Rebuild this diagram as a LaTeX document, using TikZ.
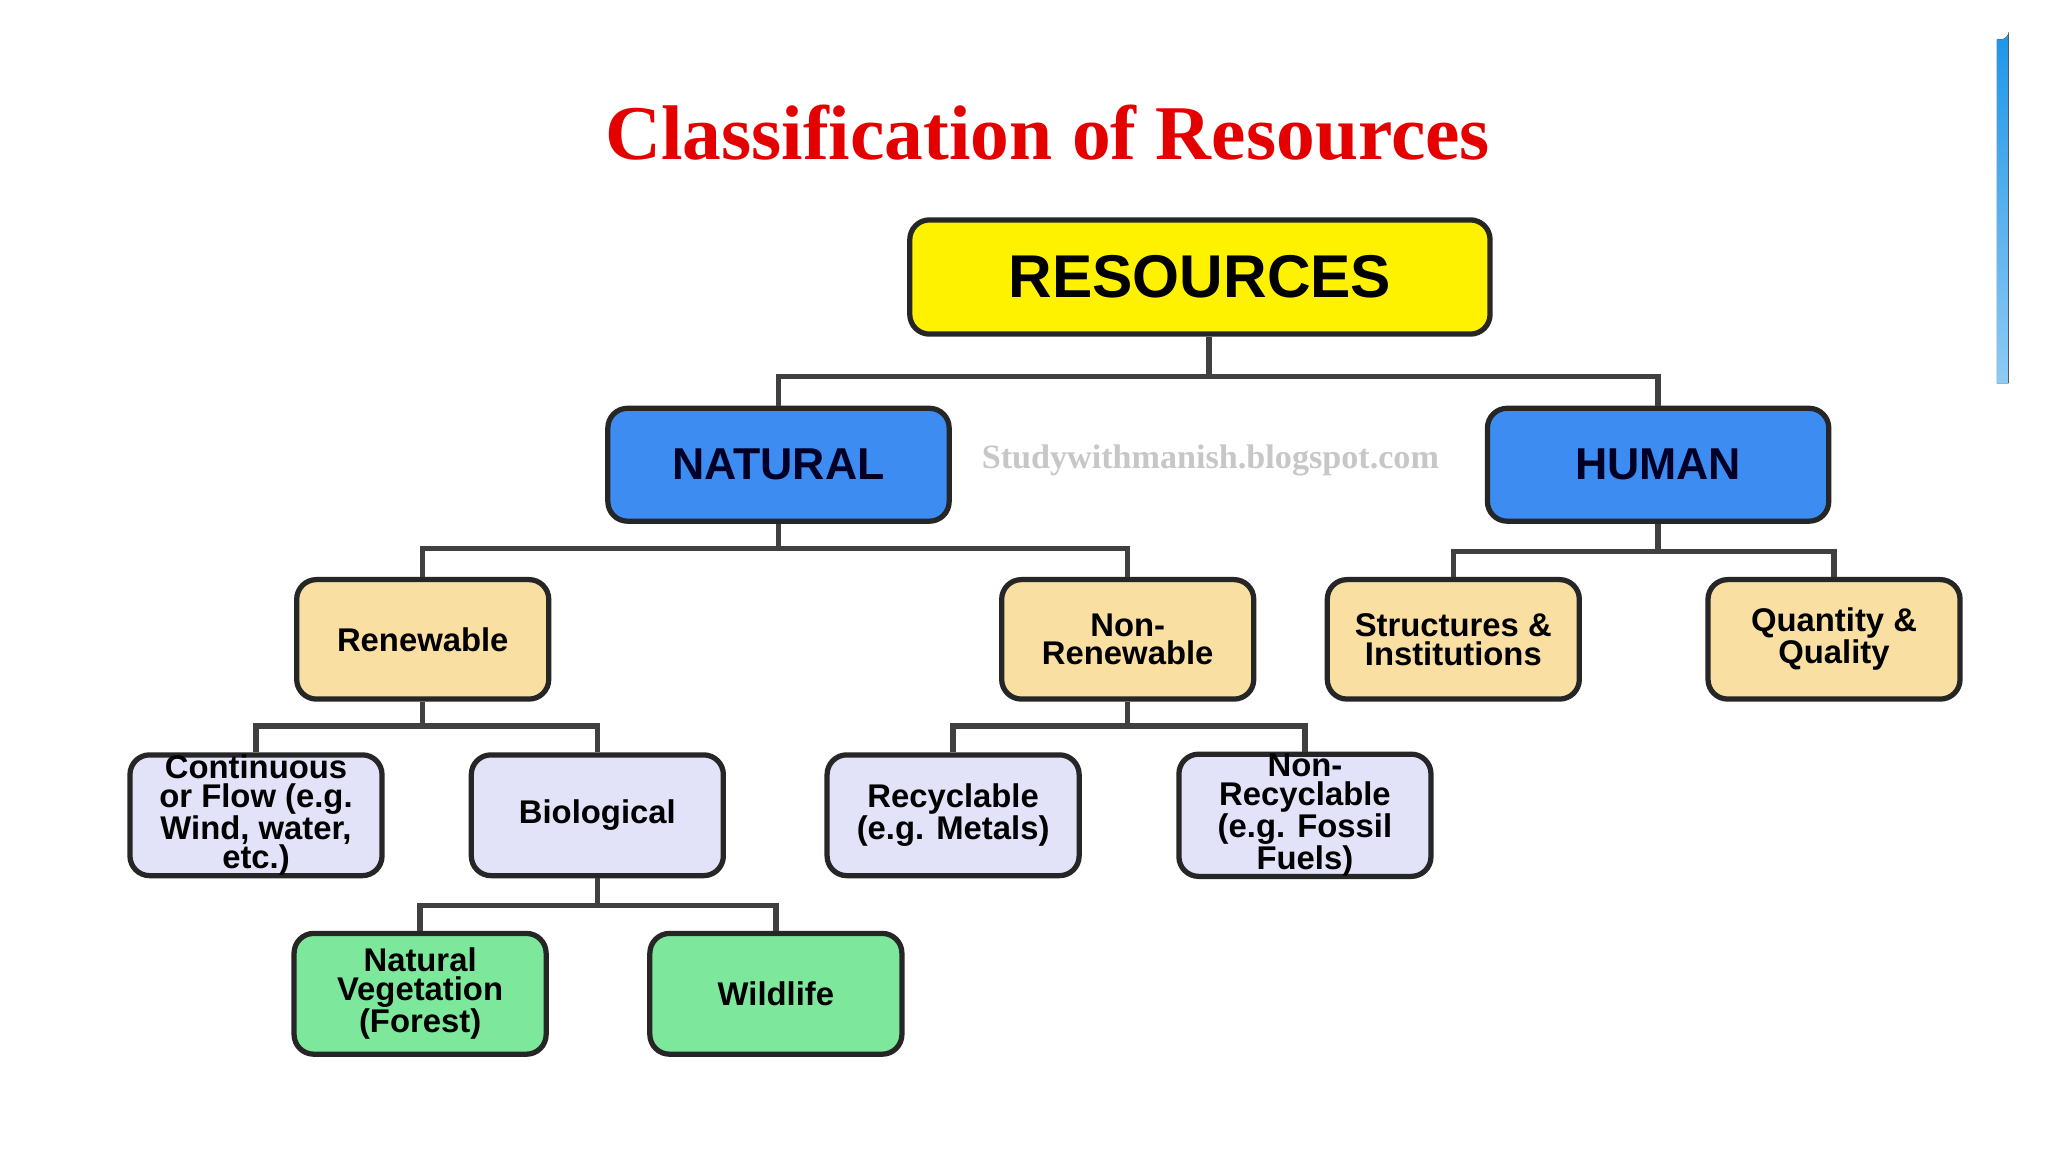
\documentclass[tikz,border=0pt]{standalone}
\usepackage{fontspec}
\setmainfont{Liberation Sans}
\newfontfamily\serifx{Liberation Serif}
\begin{document}
\begin{tikzpicture}[x=1pt,y=-1pt,
  box/.style={draw=black!85,line width=4pt,rounded corners=15pt,align=center,font=\bfseries,inner sep=0pt},
  conn/.style={draw=black!75,line width=4pt},
  tan/.style={box,fill=tanc,minimum width=192pt,minimum height=91pt,font=\fontsize{25}{22}\bfseries},
  lav/.style={box,fill=lavc,minimum width=192pt,minimum height=92pt,font=\fontsize{25}{22}\bfseries},
  grn/.style={box,fill=grnc,minimum width=192pt,minimum height=92pt,font=\fontsize{25}{22}\bfseries}]
\definecolor{tanc}{HTML}{FADFA3}
\definecolor{lavc}{HTML}{E2E2F8}
\definecolor{grnc}{HTML}{7DE89C}
\definecolor{bluec}{HTML}{3C8CF2}
\definecolor{barc}{HTML}{1E96E8}
\useasboundingbox (0,0) rectangle (1560,877.5);
\fill[white] (0,0) rectangle (1560,877.5);
\node[font=\serifx\bfseries\fontsize{59}{59}\selectfont,text=red!90!black] (title) at (798,101) {Classification of Resources};
\fill[top color=barc,bottom color=barc!50] (1521,292) -- (1521,30) -- (1524,30) arc[start angle=90,end angle=0,radius=6] -- (1530,292) -- cycle;
\node[font=\serifx\bfseries\fontsize{26}{26}\selectfont,text=black!22] (wm) at (922,351) {Studywithmanish.blogspot.com};
% nodes
\node[box,fill=yellow,minimum width=442pt,minimum height=87pt,font=\fontsize{46}{46}\bfseries] (res) at (914,211) {RESOURCES};
\node[box,fill=bluec,minimum width=260pt,minimum height=86pt,font=\fontsize{34}{34}\bfseries,text=black!85!blue] (nat) at (593,354) {NATURAL};
\node[box,fill=bluec,minimum width=260pt,minimum height=86pt,font=\fontsize{34}{34}\bfseries,text=black!85!blue] (hum) at (1263,354) {HUMAN};
\node[tan] (ren) at (322,487) {Renewable};
\node[tan] (nren) at (859,487) {Non-\\Renewable};
\node[tan] (str) at (1107,487) {Structures \&\\Institutions};
\node[tan] (qua) at (1397,487) {Quantity \&\\Quality};
\node[lav] (con) at (195,621) {Continuous\\or Flow (e.g.\\Wind, water,\\etc.)};
\node[lav] (bio) at (455,621) {Biological};
\node[lav] (rec) at (726,621) {Recyclable\\(e.g. Metals)};
\node[lav] (nrec) at (994,621) {Non-\\Recyclable\\(e.g. Fossil\\Fuels)};
\node[grn] (veg) at (320,757) {Natural\\Vegetation\\(Forest)};
\node[grn] (wil) at (591,757) {Wildlife};
% connectors
\coordinate (b1) at (921,287);
\coordinate (b2) at (593,418);
\coordinate (b3) at (1263,420);
\coordinate (b4) at (322,553);
\coordinate (b5) at (859,553);
\coordinate (b6) at (455,690);
\draw[conn] (res.south -| b1) -- (b1);
\draw[conn] (nat.north) |- (b1) -| (hum.north);
\draw[conn] (nat.south) -- (b2);
\draw[conn] (ren.north) |- (b2) -| (nren.north);
\draw[conn] (hum.south) -- (b3);
\draw[conn] (str.north) |- (b3) -| (qua.north);
\draw[conn] (ren.south) -- (b4);
\draw[conn] (con.north) |- (b4) -| (bio.north);
\draw[conn] (nren.south) -- (b5);
\draw[conn] (rec.north) |- (b5) -| (nrec.north);
\draw[conn] (bio.south) -- (b6);
\draw[conn] (veg.north) |- (b6) -| (wil.north);
\end{tikzpicture}
\end{document}
